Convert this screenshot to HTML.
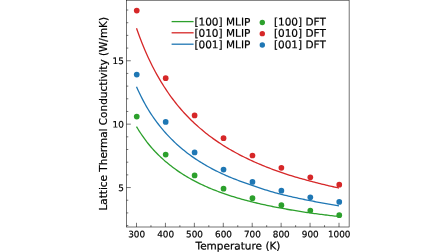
<!DOCTYPE html>
<html lang="en"><head><meta charset="utf-8"><title>Lattice Thermal Conductivity</title>
<style>html,body{margin:0;padding:0;background:#fff;overflow:hidden}svg{display:block}</style>
</head><body>
<svg width="448" height="252" viewBox="0 0 448 252">
<rect width="448" height="252" fill="#fff"/>
<path d="M136.50,126.64 L137.95,129.01 L139.39,131.29 L140.84,133.50 L142.29,135.64 L143.73,137.71 L145.18,139.71 L146.62,141.64 L148.07,143.49 L149.52,145.27 L150.96,146.99 L152.41,148.65 L153.86,150.25 L155.30,151.80 L156.75,153.29 L158.20,154.74 L159.64,156.15 L161.09,157.51 L162.54,158.84 L163.98,160.13 L165.43,161.39 L166.88,162.62 L168.32,163.81 L169.77,164.97 L171.21,166.11 L172.66,167.22 L174.11,168.29 L175.55,169.35 L177.00,170.37 L178.45,171.37 L179.89,172.35 L181.34,173.30 L182.79,174.23 L184.23,175.14 L185.68,176.02 L187.12,176.89 L188.57,177.73 L190.02,178.56 L191.46,179.36 L192.91,180.15 L194.36,180.92 L195.80,181.67 L197.25,182.41 L198.70,183.13 L200.14,183.84 L201.59,184.53 L203.04,185.21 L204.48,185.87 L205.93,186.52 L207.38,187.15 L208.82,187.78 L210.27,188.39 L211.71,188.98 L213.16,189.57 L214.61,190.14 L216.05,190.71 L217.50,191.26 L218.95,191.80 L220.39,192.34 L221.84,192.86 L223.29,193.37 L224.73,193.88 L226.18,194.37 L227.62,194.86 L229.07,195.33 L230.52,195.80 L231.96,196.26 L233.41,196.71 L234.86,197.16 L236.30,197.59 L237.75,198.02 L239.20,198.44 L240.64,198.86 L242.09,199.27 L243.54,199.67 L244.98,200.06 L246.43,200.45 L247.88,200.83 L249.32,201.21 L250.77,201.58 L252.21,201.94 L253.66,202.30 L255.11,202.66 L256.55,203.00 L258.00,203.35 L259.45,203.68 L260.89,204.01 L262.34,204.34 L263.79,204.66 L265.23,204.98 L266.68,205.29 L268.12,205.60 L269.57,205.91 L271.02,206.21 L272.46,206.50 L273.91,206.79 L275.36,207.08 L276.80,207.36 L278.25,207.64 L279.70,207.92 L281.14,208.19 L282.59,208.45 L284.04,208.72 L285.48,208.98 L286.93,209.24 L288.38,209.49 L289.82,209.74 L291.27,209.99 L292.71,210.23 L294.16,210.47 L295.61,210.71 L297.05,210.94 L298.50,211.17 L299.95,211.40 L301.39,211.63 L302.84,211.85 L304.29,212.07 L305.73,212.28 L307.18,212.50 L308.62,212.71 L310.07,212.91 L311.52,213.12 L312.96,213.32 L314.41,213.52 L315.86,213.71 L317.30,213.90 L318.75,214.09 L320.20,214.28 L321.64,214.47 L323.09,214.65 L324.54,214.83 L325.98,215.01 L327.43,215.18 L328.88,215.36 L330.32,215.53 L331.77,215.70 L333.21,215.87 L334.66,216.04 L336.11,216.21 L337.55,216.37 L339.00,216.54" fill="none" stroke="#2ca02c" stroke-width="1.3" stroke-linecap="butt" stroke-linejoin="round"/>
<path d="M136.50,28.18 L137.95,32.30 L139.39,36.27 L140.84,40.09 L142.29,43.77 L143.73,47.31 L145.18,50.74 L146.62,54.04 L148.07,57.23 L149.52,60.32 L150.96,63.31 L152.41,66.21 L153.86,69.01 L155.30,71.73 L156.75,74.38 L158.20,76.94 L159.64,79.43 L161.09,81.85 L162.54,84.21 L163.98,86.50 L165.43,88.72 L166.88,90.89 L168.32,93.00 L169.77,95.05 L171.21,97.05 L172.66,99.00 L174.11,100.90 L175.55,102.75 L177.00,104.56 L178.45,106.32 L179.89,108.04 L181.34,109.72 L182.79,111.35 L184.23,112.95 L185.68,114.52 L187.12,116.05 L188.57,117.54 L190.02,119.00 L191.46,120.43 L192.91,121.82 L194.36,123.19 L195.80,124.53 L197.25,125.83 L198.70,127.12 L200.14,128.37 L201.59,129.60 L203.04,130.81 L204.48,131.99 L205.93,133.14 L207.38,134.28 L208.82,135.39 L210.27,136.48 L211.71,137.56 L213.16,138.61 L214.61,139.64 L216.05,140.65 L217.50,141.64 L218.95,142.62 L220.39,143.57 L221.84,144.51 L223.29,145.43 L224.73,146.34 L226.18,147.23 L227.62,148.10 L229.07,148.96 L230.52,149.80 L231.96,150.63 L233.41,151.44 L234.86,152.24 L236.30,153.03 L237.75,153.80 L239.20,154.56 L240.64,155.31 L242.09,156.05 L243.54,156.78 L244.98,157.49 L246.43,158.20 L247.88,158.89 L249.32,159.57 L250.77,160.25 L252.21,160.91 L253.66,161.57 L255.11,162.22 L256.55,162.85 L258.00,163.48 L259.45,164.10 L260.89,164.71 L262.34,165.32 L263.79,165.91 L265.23,166.50 L266.68,167.08 L268.12,167.65 L269.57,168.21 L271.02,168.76 L272.46,169.31 L273.91,169.85 L275.36,170.38 L276.80,170.91 L278.25,171.42 L279.70,171.93 L281.14,172.43 L282.59,172.92 L284.04,173.40 L285.48,173.88 L286.93,174.34 L288.38,174.80 L289.82,175.26 L291.27,175.71 L292.71,176.15 L294.16,176.58 L295.61,177.01 L297.05,177.44 L298.50,177.86 L299.95,178.27 L301.39,178.68 L302.84,179.09 L304.29,179.49 L305.73,179.89 L307.18,180.28 L308.62,180.67 L310.07,181.06 L311.52,181.44 L312.96,181.82 L314.41,182.20 L315.86,182.57 L317.30,182.94 L318.75,183.30 L320.20,183.66 L321.64,184.02 L323.09,184.38 L324.54,184.73 L325.98,185.07 L327.43,185.42 L328.88,185.76 L330.32,186.09 L331.77,186.42 L333.21,186.75 L334.66,187.08 L336.11,187.40 L337.55,187.71 L339.00,188.02" fill="none" stroke="#d62728" stroke-width="1.3" stroke-linecap="butt" stroke-linejoin="round"/>
<path d="M136.50,86.65 L137.95,89.90 L139.39,93.02 L140.84,96.02 L142.29,98.89 L143.73,101.64 L145.18,104.28 L146.62,106.81 L148.07,109.25 L149.52,111.59 L150.96,113.84 L152.41,116.01 L153.86,118.11 L155.30,120.13 L156.75,122.10 L158.20,124.00 L159.64,125.85 L161.09,127.64 L162.54,129.39 L163.98,131.08 L165.43,132.73 L166.88,134.34 L168.32,135.90 L169.77,137.42 L171.21,138.89 L172.66,140.33 L174.11,141.74 L175.55,143.10 L177.00,144.43 L178.45,145.73 L179.89,147.00 L181.34,148.24 L182.79,149.44 L184.23,150.62 L185.68,151.77 L187.12,152.89 L188.57,153.99 L190.02,155.06 L191.46,156.11 L192.91,157.13 L194.36,158.13 L195.80,159.11 L197.25,160.06 L198.70,161.00 L200.14,161.91 L201.59,162.81 L203.04,163.68 L204.48,164.54 L205.93,165.38 L207.38,166.20 L208.82,167.01 L210.27,167.80 L211.71,168.58 L213.16,169.34 L214.61,170.08 L216.05,170.81 L217.50,171.53 L218.95,172.23 L220.39,172.92 L221.84,173.60 L223.29,174.26 L224.73,174.91 L226.18,175.55 L227.62,176.17 L229.07,176.79 L230.52,177.39 L231.96,177.99 L233.41,178.57 L234.86,179.15 L236.30,179.71 L237.75,180.26 L239.20,180.81 L240.64,181.35 L242.09,181.88 L243.54,182.40 L244.98,182.92 L246.43,183.44 L247.88,183.95 L249.32,184.45 L250.77,184.96 L252.21,185.46 L253.66,185.96 L255.11,186.46 L256.55,186.95 L258.00,187.43 L259.45,187.91 L260.89,188.39 L262.34,188.86 L263.79,189.32 L265.23,189.78 L266.68,190.23 L268.12,190.67 L269.57,191.11 L271.02,191.54 L272.46,191.96 L273.91,192.37 L275.36,192.78 L276.80,193.17 L278.25,193.56 L279.70,193.94 L281.14,194.31 L282.59,194.68 L284.04,195.03 L285.48,195.38 L286.93,195.72 L288.38,196.06 L289.82,196.39 L291.27,196.72 L292.71,197.04 L294.16,197.36 L295.61,197.67 L297.05,197.98 L298.50,198.29 L299.95,198.60 L301.39,198.90 L302.84,199.19 L304.29,199.49 L305.73,199.78 L307.18,200.07 L308.62,200.36 L310.07,200.65 L311.52,200.93 L312.96,201.21 L314.41,201.49 L315.86,201.77 L317.30,202.05 L318.75,202.33 L320.20,202.60 L321.64,202.87 L323.09,203.14 L324.54,203.40 L325.98,203.66 L327.43,203.92 L328.88,204.18 L330.32,204.44 L331.77,204.69 L333.21,204.93 L334.66,205.18 L336.11,205.41 L337.55,205.65 L339.00,205.88" fill="none" stroke="#1f77b4" stroke-width="1.3" stroke-linecap="butt" stroke-linejoin="round"/>
<circle cx="136.75" cy="116.55" r="2.85" fill="#2ca02c"/>
<circle cx="165.68" cy="154.60" r="2.85" fill="#2ca02c"/>
<circle cx="194.61" cy="175.40" r="2.85" fill="#2ca02c"/>
<circle cx="223.54" cy="188.65" r="2.85" fill="#2ca02c"/>
<circle cx="252.46" cy="198.15" r="2.85" fill="#2ca02c"/>
<circle cx="281.39" cy="205.15" r="2.85" fill="#2ca02c"/>
<circle cx="310.32" cy="210.50" r="2.85" fill="#2ca02c"/>
<circle cx="339.25" cy="215.20" r="2.85" fill="#2ca02c"/>
<circle cx="136.75" cy="10.60" r="2.85" fill="#d62728"/>
<circle cx="165.68" cy="78.20" r="2.85" fill="#d62728"/>
<circle cx="194.61" cy="115.40" r="2.85" fill="#d62728"/>
<circle cx="223.54" cy="138.15" r="2.85" fill="#d62728"/>
<circle cx="252.46" cy="155.50" r="2.85" fill="#d62728"/>
<circle cx="281.39" cy="167.85" r="2.85" fill="#d62728"/>
<circle cx="310.32" cy="177.35" r="2.85" fill="#d62728"/>
<circle cx="339.25" cy="184.70" r="2.85" fill="#d62728"/>
<circle cx="136.75" cy="74.60" r="2.85" fill="#1f77b4"/>
<circle cx="165.68" cy="121.95" r="2.85" fill="#1f77b4"/>
<circle cx="194.61" cy="152.45" r="2.85" fill="#1f77b4"/>
<circle cx="223.54" cy="169.60" r="2.85" fill="#1f77b4"/>
<circle cx="252.46" cy="181.90" r="2.85" fill="#1f77b4"/>
<circle cx="281.39" cy="190.65" r="2.85" fill="#1f77b4"/>
<circle cx="310.32" cy="197.25" r="2.85" fill="#1f77b4"/>
<circle cx="339.25" cy="201.95" r="2.85" fill="#1f77b4"/>
<rect x="126.5" y="0.2" width="222.62" height="226.8" fill="none" stroke="#000" stroke-width="0.55"/>
<path d="M136.50,227.0 v-4.2 M165.43,227.0 v-4.2 M194.36,227.0 v-4.2 M223.29,227.0 v-4.2 M252.21,227.0 v-4.2 M281.14,227.0 v-4.2 M310.07,227.0 v-4.2 M339.00,227.0 v-4.2 M150.96,227.0 v-1.8 M179.89,227.0 v-1.8 M208.82,227.0 v-1.8 M237.75,227.0 v-1.8 M266.68,227.0 v-1.8 M295.61,227.0 v-1.8 M324.54,227.0 v-1.8 M126.5,187.55 h4.3 M126.5,124.15 h4.3 M126.5,60.75 h4.3 M126.5,225.59 h1.8 M126.5,212.91 h1.8 M126.5,200.23 h1.8 M126.5,174.87 h1.8 M126.5,162.19 h1.8 M126.5,149.51 h1.8 M126.5,136.83 h1.8 M126.5,111.47 h1.8 M126.5,98.79 h1.8 M126.5,86.11 h1.8 M126.5,73.43 h1.8 M126.5,48.07 h1.8 M126.5,35.39 h1.8 M126.5,22.71 h1.8 M126.5,10.03 h1.8" fill="none" stroke="#000" stroke-width="0.55"/>
<g font-family="'DejaVu Sans', 'Liberation Sans', sans-serif" font-size="8.85" fill="#000" stroke="#000" stroke-width="0.2">
<text transform="translate(136.65,237.3) rotate(0.03)" text-anchor="middle">300</text>
<text transform="translate(165.58,237.3) rotate(0.03)" text-anchor="middle">400</text>
<text transform="translate(194.51,237.3) rotate(0.03)" text-anchor="middle">500</text>
<text transform="translate(223.44,237.3) rotate(0.03)" text-anchor="middle">600</text>
<text transform="translate(252.36,237.3) rotate(0.03)" text-anchor="middle">700</text>
<text transform="translate(281.29,237.3) rotate(0.03)" text-anchor="middle">800</text>
<text transform="translate(310.22,237.3) rotate(0.03)" text-anchor="middle">900</text>
<text transform="translate(339.15,237.3) rotate(0.03)" text-anchor="middle">1000</text>
<text transform="translate(123.8,190.90) rotate(0.03)" text-anchor="end">5</text>
<text transform="translate(123.8,127.50) rotate(0.03)" text-anchor="end">10</text>
<text transform="translate(123.8,64.10) rotate(0.03)" text-anchor="end">15</text>
<text transform="translate(238,249.45) rotate(0.03)" text-anchor="middle" font-size="10.5">Temperature (K)</text>
<text transform="translate(107.3,113.75) rotate(-90)" text-anchor="middle" font-size="10.47">Lattice Thermal Conductivity (W/mK)</text>
<path d="M171.6,21.6 H193.6" stroke="#2ca02c" stroke-width="1.3" fill="none"/>
<text transform="translate(194.4,25.60) rotate(0.03)" font-size="10.5">[100] MLIP</text>
<circle cx="262.3" cy="22.45" r="2.7" fill="#2ca02c" stroke="none"/>
<text transform="translate(273.9,25.60) rotate(0.03)" font-size="10.5">[100] DFT</text>
<path d="M171.6,32.8 H193.6" stroke="#d62728" stroke-width="1.3" fill="none"/>
<text transform="translate(194.4,36.80) rotate(0.03)" font-size="10.5">[010] MLIP</text>
<circle cx="262.3" cy="33.65" r="2.7" fill="#d62728" stroke="none"/>
<text transform="translate(273.9,36.80) rotate(0.03)" font-size="10.5">[010] DFT</text>
<path d="M171.6,44.2 H193.6" stroke="#1f77b4" stroke-width="1.3" fill="none"/>
<text transform="translate(194.4,48.20) rotate(0.03)" font-size="10.5">[001] MLIP</text>
<circle cx="262.3" cy="45.05" r="2.7" fill="#1f77b4" stroke="none"/>
<text transform="translate(273.9,48.20) rotate(0.03)" font-size="10.5">[001] DFT</text>
</g>
</svg>
</body></html>
